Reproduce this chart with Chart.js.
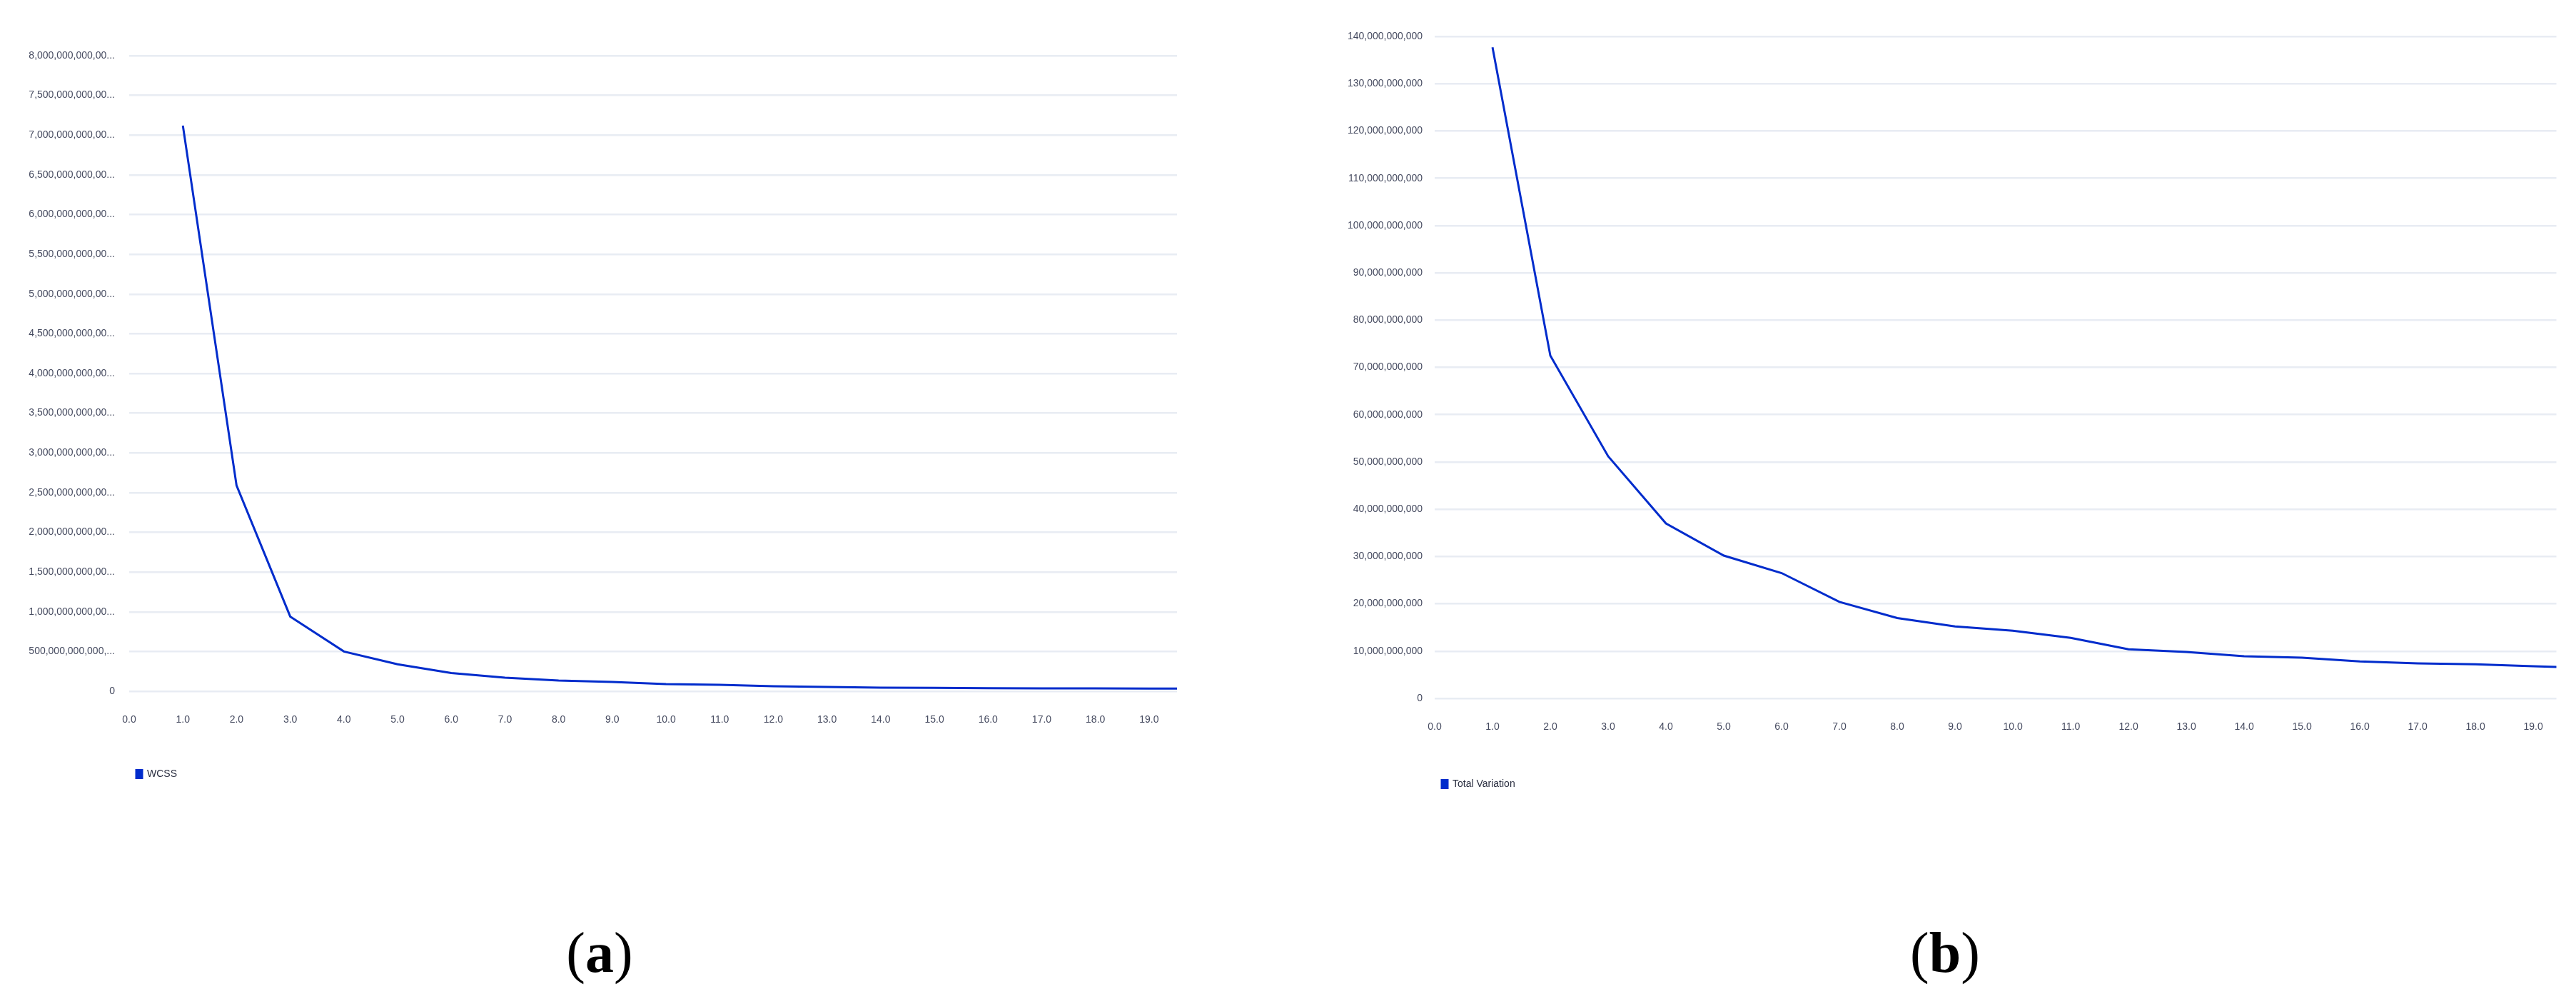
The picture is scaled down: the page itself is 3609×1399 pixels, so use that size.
<!DOCTYPE html>
<html>
<head>
<meta charset="utf-8">
<script src="https://cdn.jsdelivr.net/npm/chart.js@4.4.1/dist/chart.umd.min.js"></script>
<style>
  html, body { margin: 0; padding: 0; background: #fff; }
  body { width: 3609px; height: 1399px; position: relative; overflow: hidden; }
  canvas { position: absolute; top: 0; }
  #chartA { left: 0; }
  #chartB { left: 1850px; }
  .cap {
    position: absolute; top: 1294px; transform: translateX(-50%);
    font-family: "Liberation Serif", "Times New Roman", serif;
    font-size: 80px; line-height: 1; color: #000; white-space: nowrap;
  }
  .cap b { font-weight: bold; }
</style>
</head>
<body>
<canvas id="chartA" width="1660" height="1101"></canvas>
<canvas id="chartB" width="1745" height="1115"></canvas>
<div class="cap" style="left:840px">(<b>a</b>)</div>
<div class="cap" style="left:2725px">(<b>b</b>)</div>
<script>
(function () {
    'use strict';

    // number of clusters k
    const clusters = [1, 2, 3, 4, 5, 6, 7, 8, 9, 10, 11, 12, 13, 14, 15, 16, 17, 18, 19, 20];

    // (a) WCSS per k
    const wcss = [
        7120e12, 2590e12, 940e12, 500e12, 340e12, 230e12, 170e12, 134e12, 116e12, 90e12,
        80e12, 62e12, 54e12, 46e12, 42e12, 38e12, 36e12, 35e12, 34e12, 33e12
    ];

    // (b) total variation per k
    const totalVariation = [
        137.7e9, 72.5e9, 51.2e9, 37.0e9, 30.2e9, 26.5e9, 20.4e9, 17.0e9, 15.2e9, 14.3e9,
        12.8e9, 10.4e9, 9.8e9, 8.9e9, 8.6e9, 7.8e9, 7.4e9, 7.2e9, 6.8e9, 6.4e9
    ];

    // axis ranges / ticks
    const xTicks = [0, 1, 2, 3, 4, 5, 6, 7, 8, 9, 10, 11, 12, 13, 14, 15, 16, 17, 18, 19];
    const yTicksA = [0, 500e12, 1000e12, 1500e12, 2000e12, 2500e12, 3000e12, 3500e12, 4000e12,
        4500e12, 5000e12, 5500e12, 6000e12, 6500e12, 7000e12, 7500e12, 8000e12];
    const yTicksB = [0, 10e9, 20e9, 30e9, 40e9, 50e9, 60e9, 70e9, 80e9, 90e9, 100e9,
        110e9, 120e9, 130e9, 140e9];

    const LINE = '#002ccc';
    const TEXT = '#464b60';
    const GRID = '#e8ecf3';
    const FONT = '"Liberation Sans", Arial, sans-serif';

    function fmtBig(v) {
        const s = Math.round(v).toLocaleString('en-US');
        return s.length > 17 ? s.slice(0, 16) + '...' : s;
    }

    function makeChart(canvas, opts) {
        return new Chart(canvas, {
            type: 'line',
            data: {
                datasets: [{
                    label: opts.label,
                    data: clusters.map((k, i) => ({ x: k, y: opts.values[i] })),
                    borderColor: LINE,
                    backgroundColor: LINE,
                    borderWidth: 3,
                    pointRadius: 0,
                    tension: 0,
                    fill: false,
                }],
            },
            options: {
                responsive: false,
                animation: false,
                layout: { padding: opts.padding },
                plugins: {
                    legend: {
                        position: 'bottom',
                        align: 'start',
                        fullSize: false,
                        labels: {
                            color: '#2a2e40',
                            font: { family: FONT, size: 14 },
                            boxWidth: 8,
                            boxHeight: 11,
                            padding: 10,
                        },
                    },
                    tooltip: { enabled: false },
                },
                scales: {
                    x: {
                        type: 'linear',
                        min: 0,
                        max: opts.xMax,
                        afterBuildTicks: s => { s.ticks = xTicks.map(v => ({ value: v })); },
                        afterFit: s => { s.height = opts.xHeight; },
                        ticks: {
                            color: TEXT,
                            font: { family: FONT, size: 14 },
                            padding: opts.xPad,
                            maxRotation: 0,
                            autoSkip: false,
                            callback: v => Number(v).toFixed(1),
                        },
                        grid: { display: false, drawTicks: false },
                        border: { display: false },
                    },
                    y: {
                        type: 'linear',
                        min: 0,
                        max: opts.yTicks[opts.yTicks.length - 1],
                        afterBuildTicks: s => { s.ticks = opts.yTicks.map(v => ({ value: v })); },
                        afterFit: s => { s.width = opts.yWidth; },
                        ticks: {
                            color: TEXT,
                            font: { family: FONT, size: 14 },
                            padding: opts.yPad,
                            autoSkip: false,
                            callback: v => fmtBig(v),
                        },
                        grid: { color: GRID, lineWidth: 2.5, drawTicks: false },
                        border: { display: false },
                    },
                },
            },
        });
    }

    makeChart(document.getElementById('chartA'), {
        label: 'WCSS',
        values: wcss,
        yTicks: yTicksA,
        xMax: 19.52,
        padding: { left: 10, right: 11, top: 78, bottom: 0 },
        yWidth: 171,
        yPad: 20,
        xHeight: 99,
        xPad: 32,
    });

    makeChart(document.getElementById('chartB'), {
        label: 'Total Variation',
        values: totalVariation,
        yTicks: yTicksB,
        xMax: 19.4,
        padding: { left: 10, right: 13, top: 51, bottom: 0 },
        yWidth: 150,
        yPad: 17,
        xHeight: 103,
        xPad: 32,
    });
})();
</script>
</body>
</html>
